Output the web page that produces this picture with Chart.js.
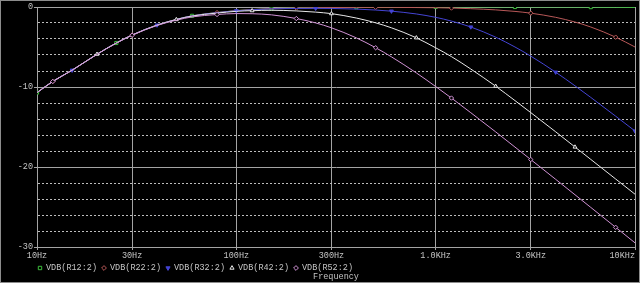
<!DOCTYPE html>
<html>
<head>
<meta charset="utf-8">
<script src="https://cdn.jsdelivr.net/npm/chart.js@4.4.1/dist/chart.umd.min.js"></script>
<style>
  html, body { margin: 0; padding: 0; background: #000; }
  #wrap { width: 640px; height: 283px; }
</style>
</head>
<body>
<div id="wrap"><canvas id="plot" width="640" height="283"></canvas></div>
<script>
// frequency points (Hz) shared by all traces
const FREQS = [10, 12, 15, 20, 25, 30, 40, 50, 60, 80, 100, 120, 150, 200, 250, 300, 400, 500, 600, 800,
  1000, 1200, 1500, 2000, 2500, 3000, 4000, 5000, 6000, 8000, 10000];

// dB
const R12 = [-10.7, -9.3, -7.9, -5.9, -4.5, -3.5, -2.25, -1.55, -1.1, -0.7, -0.45, -0.32, -0.2, -0.12, -0.08, -0.05, -0.03, -0.02, -0.01, -0.01,
  0, 0, 0, 0, 0, 0, 0, -0.01, -0.02, -0.03, -0.05];
const R22 = [-10.7, -9.3, -7.9, -5.9, -4.5, -3.5, -2.25, -1.55, -1.1, -0.7, -0.45, -0.32, -0.2, -0.13, -0.09, -0.06, -0.05, -0.04, -0.04, -0.07,
  -0.09, -0.13, -0.21, -0.36, -0.55, -0.77, -1.29, -1.88, -2.5, -3.77, -5.0];
const R32 = [-10.7, -9.3, -7.9, -5.9, -4.5, -3.5, -2.26, -1.56, -1.11, -0.71, -0.47, -0.34, -0.23, -0.18, -0.17, -0.18, -0.26, -0.38, -0.52, -0.87,
  -1.29, -1.76, -2.5, -3.77, -5.0, -6.14, -8.15, -9.85, -11.3, -13.65, -15.5];
const R42 = [-10.7, -9.3, -7.9, -5.9, -4.5, -3.51, -2.27, -1.57, -1.13, -0.76, -0.54, -0.46, -0.41, -0.49, -0.64, -0.83, -1.38, -1.98, -2.6, -3.85,
  -5.1, -6.2, -7.75, -9.9, -11.7, -13.2, -15.6, -17.5, -19.05, -21.5, -23.4];
const R52 = [-10.7, -9.31, -7.91, -5.92, -4.52, -3.53, -2.31, -1.65, -1.24, -0.94, -0.82, -0.84, -0.98, -1.44, -1.99, -2.6, -3.86, -5.09, -6.23, -8.24,
  -9.94, -11.38, -13.21, -15.61, -17.51, -19.07, -21.54, -23.47, -25.05, -27.54, -29.48];

const X_TICKS = [10, 30, 100, 300, 1000, 3000, 10000];
const X_LABELS = ["10Hz", "30Hz", "100Hz", "300Hz", "1.0KHz", "3.0KHz", "10KHz"];
const Y_TICKS = [0, -10, -20, -30];

const FONT = { family: "'Liberation Mono', 'DejaVu Sans Mono', monospace", size: 8.5 };
const TEXT = "#c4c4c4";
const GRID = "#a4a4a4";

function trace(label, values, color, pointStyle, rotation, offset, filled, order) {
  return {
    label,
    order,
    data: FREQS.map((f, i) => ({ x: f, y: values[i] })),
    borderColor: color,
    borderWidth: 1,
    pointStyle,
    rotation,
    pointBorderColor: color,
    pointBackgroundColor: filled ? color : "#000",
    pointBorderWidth: 1,
    pointRadius: (c) => (c.dataIndex % 4 === offset ? 2.2 : 0),
    cubicInterpolationMode: "monotone",
  };
}

const datasets = [
  trace("VDB(R12:2)", R12, "#3cbc3c", "rect", 0, 0, false, 4),
  trace("VDB(R22:2)", R22, "#b85858", "rectRot", 0, 1, false, 3),
  trace("VDB(R32:2)", R32, "#4444d4", "triangle", 180, 2, true, 2),
  trace("VDB(R42:2)", R42, "#e8e8e8", "triangle", 0, 3, false, 1),
  trace("VDB(R52:2)", R52, "#d092d4", "rectRot", 0, 1, false, 0),
];

// black backdrop + grey window frame
const frame = {
  id: "frame",
  beforeDraw(chart) {
    const { ctx, width, height } = chart;
    ctx.save();
    ctx.fillStyle = "#000";
    ctx.fillRect(0, 0, width, height);
    ctx.restore();
  },
  afterDraw(chart) {
    const { ctx, width, height } = chart;
    ctx.save();
    ctx.strokeStyle = "#8c8c8c";
    ctx.lineWidth = 1;
    ctx.strokeRect(0.5, 0.5, width - 1, height - 1);
    ctx.restore();
  },
};

// legend row sits between tick labels and the axis title
const legendRow = {
  id: "legendRow",
  afterDraw(chart) {
    const { ctx } = chart;
    ctx.save();
    ctx.font = `${FONT.size}px ${FONT.family}`;
    ctx.textBaseline = "middle";
    ctx.textAlign = "left";
    chart.data.datasets.forEach((ds, i) => {
      const x = 40 + i * 64;
      const y = 268;
      ctx.strokeStyle = ds.borderColor;
      ctx.fillStyle = ds.pointBackgroundColor;
      Chart.helpers.drawPoint(ctx, { pointStyle: ds.pointStyle, rotation: ds.rotation, radius: 2.4, borderWidth: 1 }, x, y);
      ctx.fillStyle = TEXT;
      ctx.fillText(ds.label, x + 6, y);
    });
    ctx.restore();
  },
};

new Chart(document.getElementById("plot"), {
  type: "line",
  data: { datasets },
  plugins: [frame, legendRow],
  options: {
    responsive: false,
    animation: false,
    layout: { padding: { top: 7, right: 4, left: 0, bottom: 0 } },
    plugins: { legend: { display: false }, tooltip: { enabled: false } },
    scales: {
      x: {
        type: "logarithmic",
        min: 10,
        max: 10000,
        afterBuildTicks: (s) => { s.ticks = X_TICKS.map((v) => ({ value: v })); },
        afterFit: (s) => { s.height = 36; s.paddingLeft = 0; s.paddingRight = 0; },
        grid: { color: GRID, tickLength: 3, tickColor: GRID },
        border: { color: GRID },
        ticks: {
          color: TEXT,
          font: FONT,
          padding: 1,
          autoSkip: false,
          maxRotation: 0,
          // last label is pushed inside the frame (trailing spaces shift it left)
          callback: (v, i) => (i === X_LABELS.length - 1 ? X_LABELS[i] + "     " : X_LABELS[i]),
        },
        title: { display: true, text: "Frequency", color: TEXT, font: FONT, padding: { top: 0, bottom: 1 } },
      },
      y: {
        min: -30,
        max: 0,
        afterFit: (s) => { s.width = 37; },
        ticks: {
          stepSize: 2,
          color: TEXT,
          font: FONT,
          padding: 1,
          callback: (v) => (Y_TICKS.includes(v) ? String(v) : ""),
        },
        grid: {
          color: (c) => (c.tick && c.tick.value % 10 !== 0 ? "#bdbdbd" : GRID),
          tickLength: 3,
          tickColor: (c) => (c.tick && c.tick.value % 10 === 0 ? GRID : "rgba(0,0,0,0)"),
        },
        border: {
          color: GRID,
          dash: (c) => (c.tick && c.tick.value % 10 !== 0 ? [2, 2] : []),
        },
      },
    },
  },
});
</script>
</body>
</html>
